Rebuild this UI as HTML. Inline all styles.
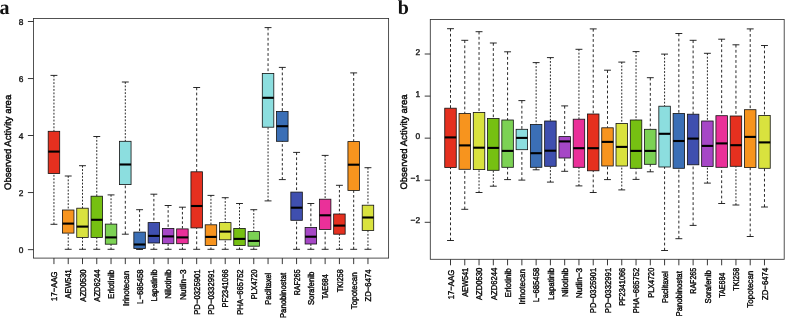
<!DOCTYPE html>
<html><head><meta charset="utf-8"><title>Observed Activity area</title>
<style>
html,body{margin:0;padding:0;background:#fff;}
body{width:785px;height:318px;overflow:hidden;}
svg{display:block;text-rendering:geometricPrecision;font-family:"Liberation Sans",sans-serif;}
</style></head>
<body>
<svg width="785" height="318" viewBox="0 0 785 318">
<rect width="785" height="318" fill="#fff"/>
<rect x="33.5" y="18.55" width="355.10" height="239.55" fill="none" stroke="#333" stroke-width="0.85"/>
<line x1="27.9" y1="21.5" x2="33.5" y2="21.5" stroke="#222" stroke-width="0.9"/>
<text x="23.3" y="24.80" font-size="8.4" text-anchor="end" fill="#111" stroke="#111" stroke-width="0.35">8</text>
<line x1="27.9" y1="78.55" x2="33.5" y2="78.55" stroke="#222" stroke-width="0.9"/>
<text x="23.3" y="81.85" font-size="8.4" text-anchor="end" fill="#111" stroke="#111" stroke-width="0.35">6</text>
<line x1="27.9" y1="135.5" x2="33.5" y2="135.5" stroke="#222" stroke-width="0.9"/>
<text x="23.3" y="138.80" font-size="8.4" text-anchor="end" fill="#111" stroke="#111" stroke-width="0.35">4</text>
<line x1="27.9" y1="192.55" x2="33.5" y2="192.55" stroke="#222" stroke-width="0.9"/>
<text x="23.3" y="195.85" font-size="8.4" text-anchor="end" fill="#111" stroke="#111" stroke-width="0.35">2</text>
<line x1="27.9" y1="249.65" x2="33.5" y2="249.65" stroke="#222" stroke-width="0.9"/>
<text x="23.3" y="252.95" font-size="8.4" text-anchor="end" fill="#111" stroke="#111" stroke-width="0.35">0</text>
<line x1="53.95" y1="75.4" x2="53.95" y2="131.3" stroke="#111" stroke-width="0.9" stroke-dasharray="1.84,1.56"/>
<line x1="53.95" y1="224.3" x2="53.95" y2="173.5" stroke="#111" stroke-width="0.9" stroke-dasharray="1.84,1.56"/>
<line x1="50.50" y1="75.4" x2="57.40" y2="75.4" stroke="#111" stroke-width="0.9"/>
<line x1="50.50" y1="224.3" x2="57.40" y2="224.3" stroke="#111" stroke-width="0.9"/>
<rect x="48.20" y="131.3" width="11.5" height="42.20" fill="#E5301F" stroke="#111" stroke-width="0.8"/>
<line x1="48.20" y1="151.6" x2="59.70" y2="151.6" stroke="#000" stroke-width="2.1"/>
<line x1="53.95" y1="258.1" x2="53.95" y2="264.1" stroke="#222" stroke-width="0.9"/>
<text transform="translate(57.15,300.90) rotate(-90) scale(0.1)" font-size="85" textLength="295" lengthAdjust="spacingAndGlyphs" fill="#111" stroke="#000" stroke-width="4">17−AAG</text>
<line x1="68.22" y1="176" x2="68.22" y2="210" stroke="#111" stroke-width="0.9" stroke-dasharray="1.84,1.56"/>
<line x1="68.22" y1="249.3" x2="68.22" y2="233.1" stroke="#111" stroke-width="0.9" stroke-dasharray="1.84,1.56"/>
<line x1="64.77" y1="176" x2="71.67" y2="176" stroke="#111" stroke-width="0.9"/>
<line x1="64.77" y1="249.3" x2="71.67" y2="249.3" stroke="#111" stroke-width="0.9"/>
<rect x="62.47" y="210" width="11.5" height="23.10" fill="#F7941E" stroke="#111" stroke-width="0.8"/>
<line x1="62.47" y1="223.6" x2="73.97" y2="223.6" stroke="#000" stroke-width="2.1"/>
<line x1="68.22" y1="258.1" x2="68.22" y2="264.1" stroke="#222" stroke-width="0.9"/>
<text transform="translate(71.42,298.40) rotate(-90) scale(0.1)" font-size="85" textLength="290" lengthAdjust="spacingAndGlyphs" fill="#111" stroke="#000" stroke-width="4">AEW541</text>
<line x1="82.50" y1="165.7" x2="82.50" y2="208.2" stroke="#111" stroke-width="0.9" stroke-dasharray="1.84,1.56"/>
<line x1="82.50" y1="249.3" x2="82.50" y2="237.4" stroke="#111" stroke-width="0.9" stroke-dasharray="1.84,1.56"/>
<line x1="79.05" y1="165.7" x2="85.95" y2="165.7" stroke="#111" stroke-width="0.9"/>
<line x1="79.05" y1="249.3" x2="85.95" y2="249.3" stroke="#111" stroke-width="0.9"/>
<rect x="76.75" y="208.2" width="11.5" height="29.20" fill="#D9E23E" stroke="#111" stroke-width="0.8"/>
<line x1="76.75" y1="226.6" x2="88.25" y2="226.6" stroke="#000" stroke-width="2.1"/>
<line x1="82.50" y1="258.1" x2="82.50" y2="264.1" stroke="#222" stroke-width="0.9"/>
<text transform="translate(85.70,301.70) rotate(-90) scale(0.1)" font-size="85" textLength="323" lengthAdjust="spacingAndGlyphs" fill="#111" stroke="#000" stroke-width="4">AZD0530</text>
<line x1="96.77" y1="136.5" x2="96.77" y2="196.2" stroke="#111" stroke-width="0.9" stroke-dasharray="1.84,1.56"/>
<line x1="96.77" y1="249.3" x2="96.77" y2="237.4" stroke="#111" stroke-width="0.9" stroke-dasharray="1.84,1.56"/>
<line x1="93.32" y1="136.5" x2="100.22" y2="136.5" stroke="#111" stroke-width="0.9"/>
<line x1="93.32" y1="249.3" x2="100.22" y2="249.3" stroke="#111" stroke-width="0.9"/>
<rect x="91.02" y="196.2" width="11.5" height="41.20" fill="#76C012" stroke="#111" stroke-width="0.8"/>
<line x1="91.02" y1="219.8" x2="102.52" y2="219.8" stroke="#000" stroke-width="2.1"/>
<line x1="96.77" y1="258.1" x2="96.77" y2="264.1" stroke="#222" stroke-width="0.9"/>
<text transform="translate(99.97,301.70) rotate(-90) scale(0.1)" font-size="85" textLength="323" lengthAdjust="spacingAndGlyphs" fill="#111" stroke="#000" stroke-width="4">AZD6244</text>
<line x1="111.04" y1="194.9" x2="111.04" y2="224.1" stroke="#111" stroke-width="0.9" stroke-dasharray="1.84,1.56"/>
<line x1="111.04" y1="249.3" x2="111.04" y2="244.2" stroke="#111" stroke-width="0.9" stroke-dasharray="1.84,1.56"/>
<line x1="107.59" y1="194.9" x2="114.49" y2="194.9" stroke="#111" stroke-width="0.9"/>
<line x1="107.59" y1="249.3" x2="114.49" y2="249.3" stroke="#111" stroke-width="0.9"/>
<rect x="105.29" y="224.1" width="11.5" height="20.10" fill="#7CD254" stroke="#111" stroke-width="0.8"/>
<line x1="105.29" y1="237.4" x2="116.79" y2="237.4" stroke="#000" stroke-width="2.1"/>
<line x1="111.04" y1="258.1" x2="111.04" y2="264.1" stroke="#222" stroke-width="0.9"/>
<text transform="translate(114.24,299.00) rotate(-90) scale(0.1)" font-size="85" textLength="292" lengthAdjust="spacingAndGlyphs" fill="#111" stroke="#000" stroke-width="4">Erlotinib</text>
<line x1="125.31" y1="82" x2="125.31" y2="141.3" stroke="#111" stroke-width="0.9" stroke-dasharray="1.84,1.56"/>
<line x1="125.31" y1="234.2" x2="125.31" y2="184.6" stroke="#111" stroke-width="0.9" stroke-dasharray="2.75,2.35"/>
<line x1="121.86" y1="82" x2="128.76" y2="82" stroke="#111" stroke-width="0.9"/>
<line x1="121.86" y1="234.2" x2="128.76" y2="234.2" stroke="#111" stroke-width="0.9"/>
<rect x="119.56" y="141.3" width="11.5" height="43.30" fill="#8CDEDF" stroke="#111" stroke-width="0.8"/>
<line x1="119.56" y1="164.5" x2="131.06" y2="164.5" stroke="#000" stroke-width="2.1"/>
<line x1="125.31" y1="258.1" x2="125.31" y2="264.1" stroke="#222" stroke-width="0.9"/>
<text transform="translate(128.51,306.00) rotate(-90) scale(0.1)" font-size="85" textLength="353" lengthAdjust="spacingAndGlyphs" fill="#111" stroke="#000" stroke-width="4">Irinotecan</text>
<line x1="139.59" y1="209.7" x2="139.59" y2="232.1" stroke="#111" stroke-width="0.9" stroke-dasharray="2.54,2.16"/>
<line x1="139.59" y1="249.5" x2="139.59" y2="248.5" stroke="#111" stroke-width="0.9" stroke-dasharray="1.84,1.56"/>
<line x1="136.14" y1="209.7" x2="143.04" y2="209.7" stroke="#111" stroke-width="0.9"/>
<line x1="136.14" y1="249.5" x2="143.04" y2="249.5" stroke="#111" stroke-width="0.9"/>
<rect x="133.84" y="232.1" width="11.5" height="16.40" fill="#3B6FB6" stroke="#111" stroke-width="0.8"/>
<line x1="133.84" y1="244.5" x2="145.34" y2="244.5" stroke="#000" stroke-width="2.1"/>
<line x1="139.59" y1="258.1" x2="139.59" y2="264.1" stroke="#222" stroke-width="0.9"/>
<text transform="translate(142.79,303.90) rotate(-90) scale(0.1)" font-size="85" textLength="345" lengthAdjust="spacingAndGlyphs" fill="#111" stroke="#000" stroke-width="4">L−685458</text>
<line x1="153.86" y1="194.2" x2="153.86" y2="222.6" stroke="#111" stroke-width="0.9" stroke-dasharray="2.54,2.16"/>
<line x1="153.86" y1="249.3" x2="153.86" y2="243" stroke="#111" stroke-width="0.9" stroke-dasharray="1.84,1.56"/>
<line x1="150.41" y1="194.2" x2="157.31" y2="194.2" stroke="#111" stroke-width="0.9"/>
<line x1="150.41" y1="249.3" x2="157.31" y2="249.3" stroke="#111" stroke-width="0.9"/>
<rect x="148.11" y="222.6" width="11.5" height="20.40" fill="#3F4FAF" stroke="#111" stroke-width="0.8"/>
<line x1="148.11" y1="235.9" x2="159.61" y2="235.9" stroke="#000" stroke-width="2.1"/>
<line x1="153.86" y1="258.1" x2="153.86" y2="264.1" stroke="#222" stroke-width="0.9"/>
<text transform="translate(157.06,301.50) rotate(-90) scale(0.1)" font-size="85" textLength="321" lengthAdjust="spacingAndGlyphs" fill="#111" stroke="#000" stroke-width="4">Lapatinib</text>
<line x1="168.13" y1="205.5" x2="168.13" y2="228.4" stroke="#111" stroke-width="0.9" stroke-dasharray="2.54,2.16"/>
<line x1="168.13" y1="249.3" x2="168.13" y2="243.7" stroke="#111" stroke-width="0.9" stroke-dasharray="1.84,1.56"/>
<line x1="164.68" y1="205.5" x2="171.58" y2="205.5" stroke="#111" stroke-width="0.9"/>
<line x1="164.68" y1="249.3" x2="171.58" y2="249.3" stroke="#111" stroke-width="0.9"/>
<rect x="162.38" y="228.4" width="11.5" height="15.30" fill="#A647C6" stroke="#111" stroke-width="0.8"/>
<line x1="162.38" y1="236.4" x2="173.88" y2="236.4" stroke="#000" stroke-width="2.1"/>
<line x1="168.13" y1="258.1" x2="168.13" y2="264.1" stroke="#222" stroke-width="0.9"/>
<text transform="translate(171.33,298.70) rotate(-90) scale(0.1)" font-size="85" textLength="293" lengthAdjust="spacingAndGlyphs" fill="#111" stroke="#000" stroke-width="4">Nilotinib</text>
<line x1="182.41" y1="207.2" x2="182.41" y2="228.9" stroke="#111" stroke-width="0.9" stroke-dasharray="2.54,2.16"/>
<line x1="182.41" y1="249.3" x2="182.41" y2="243.7" stroke="#111" stroke-width="0.9" stroke-dasharray="1.84,1.56"/>
<line x1="178.96" y1="207.2" x2="185.86" y2="207.2" stroke="#111" stroke-width="0.9"/>
<line x1="178.96" y1="249.3" x2="185.86" y2="249.3" stroke="#111" stroke-width="0.9"/>
<rect x="176.66" y="228.9" width="11.5" height="14.80" fill="#EA3099" stroke="#111" stroke-width="0.8"/>
<line x1="176.66" y1="237.4" x2="188.16" y2="237.4" stroke="#000" stroke-width="2.1"/>
<line x1="182.41" y1="258.1" x2="182.41" y2="264.1" stroke="#222" stroke-width="0.9"/>
<text transform="translate(185.61,299.90) rotate(-90) scale(0.1)" font-size="85" textLength="305" lengthAdjust="spacingAndGlyphs" fill="#111" stroke="#000" stroke-width="4">Nutlin−3</text>
<line x1="196.68" y1="87.5" x2="196.68" y2="171.8" stroke="#111" stroke-width="0.9" stroke-dasharray="2.75,2.35"/>
<line x1="196.68" y1="249.3" x2="196.68" y2="227.9" stroke="#111" stroke-width="0.9" stroke-dasharray="2.75,2.35"/>
<line x1="193.23" y1="87.5" x2="200.13" y2="87.5" stroke="#111" stroke-width="0.9"/>
<line x1="193.23" y1="249.3" x2="200.13" y2="249.3" stroke="#111" stroke-width="0.9"/>
<rect x="190.93" y="171.8" width="11.5" height="56.10" fill="#E5301F" stroke="#111" stroke-width="0.8"/>
<line x1="190.93" y1="206" x2="202.43" y2="206" stroke="#000" stroke-width="2.1"/>
<line x1="196.68" y1="258.1" x2="196.68" y2="264.1" stroke="#222" stroke-width="0.9"/>
<text transform="translate(199.88,314.80) rotate(-90) scale(0.1)" font-size="85" textLength="454" lengthAdjust="spacingAndGlyphs" fill="#111" stroke="#000" stroke-width="4">PD−0325901</text>
<line x1="210.95" y1="195.4" x2="210.95" y2="224.8" stroke="#111" stroke-width="0.9" stroke-dasharray="1.84,1.56"/>
<line x1="210.95" y1="249.3" x2="210.95" y2="245.5" stroke="#111" stroke-width="0.9" stroke-dasharray="1.84,1.56"/>
<line x1="207.50" y1="195.4" x2="214.40" y2="195.4" stroke="#111" stroke-width="0.9"/>
<line x1="207.50" y1="249.3" x2="214.40" y2="249.3" stroke="#111" stroke-width="0.9"/>
<rect x="205.20" y="224.8" width="11.5" height="20.70" fill="#F7941E" stroke="#111" stroke-width="0.8"/>
<line x1="205.20" y1="236.9" x2="216.70" y2="236.9" stroke="#000" stroke-width="2.1"/>
<line x1="210.95" y1="258.1" x2="210.95" y2="264.1" stroke="#222" stroke-width="0.9"/>
<text transform="translate(214.15,314.80) rotate(-90) scale(0.1)" font-size="85" textLength="454" lengthAdjust="spacingAndGlyphs" fill="#111" stroke="#000" stroke-width="4">PD−0332991</text>
<line x1="225.23" y1="197.7" x2="225.23" y2="222.6" stroke="#111" stroke-width="0.9" stroke-dasharray="1.84,1.56"/>
<line x1="225.23" y1="249.3" x2="225.23" y2="239.8" stroke="#111" stroke-width="0.9" stroke-dasharray="1.84,1.56"/>
<line x1="221.78" y1="197.7" x2="228.68" y2="197.7" stroke="#111" stroke-width="0.9"/>
<line x1="221.78" y1="249.3" x2="228.68" y2="249.3" stroke="#111" stroke-width="0.9"/>
<rect x="219.48" y="222.6" width="11.5" height="17.20" fill="#D9E23E" stroke="#111" stroke-width="0.8"/>
<line x1="219.48" y1="231.6" x2="230.98" y2="231.6" stroke="#000" stroke-width="2.1"/>
<line x1="225.23" y1="258.1" x2="225.23" y2="264.1" stroke="#222" stroke-width="0.9"/>
<text transform="translate(228.43,307.40) rotate(-90) scale(0.1)" font-size="85" textLength="380" lengthAdjust="spacingAndGlyphs" fill="#111" stroke="#000" stroke-width="4">PF2341066</text>
<line x1="239.50" y1="203.5" x2="239.50" y2="228.4" stroke="#111" stroke-width="0.9" stroke-dasharray="1.84,1.56"/>
<line x1="239.50" y1="249.3" x2="239.50" y2="245.5" stroke="#111" stroke-width="0.9" stroke-dasharray="1.84,1.56"/>
<line x1="236.05" y1="203.5" x2="242.95" y2="203.5" stroke="#111" stroke-width="0.9"/>
<line x1="236.05" y1="249.3" x2="242.95" y2="249.3" stroke="#111" stroke-width="0.9"/>
<rect x="233.75" y="228.4" width="11.5" height="17.10" fill="#76C012" stroke="#111" stroke-width="0.8"/>
<line x1="233.75" y1="238.9" x2="245.25" y2="238.9" stroke="#000" stroke-width="2.1"/>
<line x1="239.50" y1="258.1" x2="239.50" y2="264.1" stroke="#222" stroke-width="0.9"/>
<text transform="translate(242.70,314.80) rotate(-90) scale(0.1)" font-size="85" textLength="454" lengthAdjust="spacingAndGlyphs" fill="#111" stroke="#000" stroke-width="4">PHA−665752</text>
<line x1="253.77" y1="209.7" x2="253.77" y2="231.6" stroke="#111" stroke-width="0.9" stroke-dasharray="1.84,1.56"/>
<line x1="253.77" y1="249.3" x2="253.77" y2="246.2" stroke="#111" stroke-width="0.9" stroke-dasharray="1.84,1.56"/>
<line x1="250.32" y1="209.7" x2="257.22" y2="209.7" stroke="#111" stroke-width="0.9"/>
<line x1="250.32" y1="249.3" x2="257.22" y2="249.3" stroke="#111" stroke-width="0.9"/>
<rect x="248.02" y="231.6" width="11.5" height="14.60" fill="#7CD254" stroke="#111" stroke-width="0.8"/>
<line x1="248.02" y1="240.9" x2="259.52" y2="240.9" stroke="#000" stroke-width="2.1"/>
<line x1="253.77" y1="258.1" x2="253.77" y2="264.1" stroke="#222" stroke-width="0.9"/>
<text transform="translate(256.97,299.30) rotate(-90) scale(0.1)" font-size="85" textLength="299" lengthAdjust="spacingAndGlyphs" fill="#111" stroke="#000" stroke-width="4">PLX4720</text>
<line x1="268.05" y1="27.6" x2="268.05" y2="73.4" stroke="#111" stroke-width="0.9" stroke-dasharray="2.75,2.35"/>
<line x1="268.05" y1="200.9" x2="268.05" y2="127.2" stroke="#111" stroke-width="0.9" stroke-dasharray="1.84,1.56"/>
<line x1="264.60" y1="27.6" x2="271.50" y2="27.6" stroke="#111" stroke-width="0.9"/>
<line x1="264.60" y1="200.9" x2="271.50" y2="200.9" stroke="#111" stroke-width="0.9"/>
<rect x="262.30" y="73.4" width="11.5" height="53.80" fill="#8CDEDF" stroke="#111" stroke-width="0.8"/>
<line x1="262.30" y1="97.8" x2="273.80" y2="97.8" stroke="#000" stroke-width="2.1"/>
<line x1="268.05" y1="258.1" x2="268.05" y2="264.1" stroke="#222" stroke-width="0.9"/>
<text transform="translate(271.25,304.70) rotate(-90) scale(0.1)" font-size="85" textLength="319" lengthAdjust="spacingAndGlyphs" fill="#111" stroke="#000" stroke-width="4">Paclitaxel</text>
<line x1="282.32" y1="67.4" x2="282.32" y2="111.4" stroke="#111" stroke-width="0.9" stroke-dasharray="2.75,2.35"/>
<line x1="282.32" y1="179.6" x2="282.32" y2="141.3" stroke="#111" stroke-width="0.9" stroke-dasharray="2.54,2.16"/>
<line x1="278.87" y1="67.4" x2="285.77" y2="67.4" stroke="#111" stroke-width="0.9"/>
<line x1="278.87" y1="179.6" x2="285.77" y2="179.6" stroke="#111" stroke-width="0.9"/>
<rect x="276.57" y="111.4" width="11.5" height="29.90" fill="#3B6FB6" stroke="#111" stroke-width="0.8"/>
<line x1="276.57" y1="126.2" x2="288.07" y2="126.2" stroke="#000" stroke-width="2.1"/>
<line x1="282.32" y1="258.1" x2="282.32" y2="264.1" stroke="#222" stroke-width="0.9"/>
<text transform="translate(285.52,318.10) rotate(-90) scale(0.1)" font-size="85" textLength="453" lengthAdjust="spacingAndGlyphs" fill="#111" stroke="#000" stroke-width="4">Panobinostat</text>
<line x1="296.59" y1="152.4" x2="296.59" y2="192.1" stroke="#111" stroke-width="0.9" stroke-dasharray="2.70,2.30"/>
<line x1="296.59" y1="249.3" x2="296.59" y2="220.3" stroke="#111" stroke-width="0.9" stroke-dasharray="2.70,2.30"/>
<line x1="293.14" y1="152.4" x2="300.04" y2="152.4" stroke="#111" stroke-width="0.9"/>
<line x1="293.14" y1="249.3" x2="300.04" y2="249.3" stroke="#111" stroke-width="0.9"/>
<rect x="290.84" y="192.1" width="11.5" height="28.20" fill="#3F4FAF" stroke="#111" stroke-width="0.8"/>
<line x1="290.84" y1="207.7" x2="302.34" y2="207.7" stroke="#000" stroke-width="2.1"/>
<line x1="296.59" y1="258.1" x2="296.59" y2="264.1" stroke="#222" stroke-width="0.9"/>
<text transform="translate(299.79,295.30) rotate(-90) scale(0.1)" font-size="85" textLength="259" lengthAdjust="spacingAndGlyphs" fill="#111" stroke="#000" stroke-width="4">RAF265</text>
<line x1="310.86" y1="203.5" x2="310.86" y2="227.4" stroke="#111" stroke-width="0.9" stroke-dasharray="2.70,2.30"/>
<line x1="310.86" y1="249.3" x2="310.86" y2="244" stroke="#111" stroke-width="0.9" stroke-dasharray="1.84,1.56"/>
<line x1="307.41" y1="203.5" x2="314.31" y2="203.5" stroke="#111" stroke-width="0.9"/>
<line x1="307.41" y1="249.3" x2="314.31" y2="249.3" stroke="#111" stroke-width="0.9"/>
<rect x="305.11" y="227.4" width="11.5" height="16.60" fill="#A647C6" stroke="#111" stroke-width="0.8"/>
<line x1="305.11" y1="236.7" x2="316.61" y2="236.7" stroke="#000" stroke-width="2.1"/>
<line x1="310.86" y1="258.1" x2="310.86" y2="264.1" stroke="#222" stroke-width="0.9"/>
<text transform="translate(314.06,305.10) rotate(-90) scale(0.1)" font-size="85" textLength="334" lengthAdjust="spacingAndGlyphs" fill="#111" stroke="#000" stroke-width="4">Sorafenib</text>
<line x1="325.14" y1="155.4" x2="325.14" y2="199.2" stroke="#111" stroke-width="0.9" stroke-dasharray="1.84,1.56"/>
<line x1="325.14" y1="249.3" x2="325.14" y2="229.4" stroke="#111" stroke-width="0.9" stroke-dasharray="2.70,2.30"/>
<line x1="321.69" y1="155.4" x2="328.59" y2="155.4" stroke="#111" stroke-width="0.9"/>
<line x1="321.69" y1="249.3" x2="328.59" y2="249.3" stroke="#111" stroke-width="0.9"/>
<rect x="319.39" y="199.2" width="11.5" height="30.20" fill="#EA3099" stroke="#111" stroke-width="0.8"/>
<line x1="319.39" y1="215.3" x2="330.89" y2="215.3" stroke="#000" stroke-width="2.1"/>
<line x1="325.14" y1="258.1" x2="325.14" y2="264.1" stroke="#222" stroke-width="0.9"/>
<text transform="translate(328.34,299.30) rotate(-90) scale(0.1)" font-size="85" textLength="250" lengthAdjust="spacingAndGlyphs" fill="#111" stroke="#000" stroke-width="4">TAE684</text>
<line x1="339.41" y1="185.3" x2="339.41" y2="214" stroke="#111" stroke-width="0.9" stroke-dasharray="2.54,2.16"/>
<line x1="339.41" y1="249.3" x2="339.41" y2="234.2" stroke="#111" stroke-width="0.9" stroke-dasharray="1.84,1.56"/>
<line x1="335.96" y1="185.3" x2="342.86" y2="185.3" stroke="#111" stroke-width="0.9"/>
<line x1="335.96" y1="249.3" x2="342.86" y2="249.3" stroke="#111" stroke-width="0.9"/>
<rect x="333.66" y="214" width="11.5" height="20.20" fill="#E5301F" stroke="#111" stroke-width="0.8"/>
<line x1="333.66" y1="225.6" x2="345.16" y2="225.6" stroke="#000" stroke-width="2.1"/>
<line x1="339.41" y1="258.1" x2="339.41" y2="264.1" stroke="#222" stroke-width="0.9"/>
<text transform="translate(342.61,292.30) rotate(-90) scale(0.1)" font-size="85" textLength="229" lengthAdjust="spacingAndGlyphs" fill="#111" stroke="#000" stroke-width="4">TKI258</text>
<line x1="353.68" y1="72.9" x2="353.68" y2="141.6" stroke="#111" stroke-width="0.9" stroke-dasharray="2.75,2.35"/>
<line x1="353.68" y1="249.3" x2="353.68" y2="190.4" stroke="#111" stroke-width="0.9" stroke-dasharray="2.54,2.16"/>
<line x1="350.23" y1="72.9" x2="357.13" y2="72.9" stroke="#111" stroke-width="0.9"/>
<line x1="350.23" y1="249.3" x2="357.13" y2="249.3" stroke="#111" stroke-width="0.9"/>
<rect x="347.93" y="141.6" width="11.5" height="48.80" fill="#F7941E" stroke="#111" stroke-width="0.8"/>
<line x1="347.93" y1="164.7" x2="359.43" y2="164.7" stroke="#000" stroke-width="2.1"/>
<line x1="353.68" y1="258.1" x2="353.68" y2="264.1" stroke="#222" stroke-width="0.9"/>
<text transform="translate(356.88,309.30) rotate(-90) scale(0.1)" font-size="85" textLength="370" lengthAdjust="spacingAndGlyphs" fill="#111" stroke="#000" stroke-width="4">Topotecan</text>
<line x1="367.96" y1="167.7" x2="367.96" y2="205.2" stroke="#111" stroke-width="0.9" stroke-dasharray="1.84,1.56"/>
<line x1="367.96" y1="249.3" x2="367.96" y2="230.4" stroke="#111" stroke-width="0.9" stroke-dasharray="1.84,1.56"/>
<line x1="364.51" y1="167.7" x2="371.41" y2="167.7" stroke="#111" stroke-width="0.9"/>
<line x1="364.51" y1="249.3" x2="371.41" y2="249.3" stroke="#111" stroke-width="0.9"/>
<rect x="362.21" y="205.2" width="11.5" height="25.20" fill="#D9E23E" stroke="#111" stroke-width="0.8"/>
<line x1="362.21" y1="217.5" x2="373.71" y2="217.5" stroke="#000" stroke-width="2.1"/>
<line x1="367.96" y1="258.1" x2="367.96" y2="264.1" stroke="#222" stroke-width="0.9"/>
<text transform="translate(371.16,301.60) rotate(-90) scale(0.1)" font-size="85" textLength="322" lengthAdjust="spacingAndGlyphs" fill="#111" stroke="#000" stroke-width="4">ZD−6474</text>
<text transform="translate(11.3,190.00) rotate(-90) scale(0.1)" font-size="95" textLength="952" lengthAdjust="spacingAndGlyphs" fill="#111" stroke="#000" stroke-width="4">Observed Activity area</text>
<text x="-0.5" y="13.5" font-family="'Liberation Serif', serif" font-weight="bold" font-size="20" fill="#111">a</text>
<rect x="430.3" y="19.45" width="353.90" height="239.85" fill="none" stroke="#333" stroke-width="0.85"/>
<line x1="424.7" y1="54.0" x2="430.3" y2="54.0" stroke="#222" stroke-width="0.9"/>
<text x="420.1" y="54.90" font-size="8.4" text-anchor="end" fill="#111" stroke="#111" stroke-width="0.35">2</text>
<line x1="424.7" y1="96.1" x2="430.3" y2="96.1" stroke="#222" stroke-width="0.9"/>
<text x="420.1" y="97.00" font-size="8.4" text-anchor="end" fill="#111" stroke="#111" stroke-width="0.35">1</text>
<line x1="424.7" y1="138.15" x2="430.3" y2="138.15" stroke="#222" stroke-width="0.9"/>
<text x="420.1" y="139.05" font-size="8.4" text-anchor="end" fill="#111" stroke="#111" stroke-width="0.35">0</text>
<line x1="424.7" y1="180.2" x2="430.3" y2="180.2" stroke="#222" stroke-width="0.9"/>
<text x="420.1" y="181.10" font-size="8.4" text-anchor="end" fill="#111" stroke="#111" stroke-width="0.35">−1</text>
<line x1="424.7" y1="222.3" x2="430.3" y2="222.3" stroke="#222" stroke-width="0.9"/>
<text x="420.1" y="223.20" font-size="8.4" text-anchor="end" fill="#111" stroke="#111" stroke-width="0.35">−2</text>
<line x1="450.50" y1="28.7" x2="450.50" y2="108.2" stroke="#111" stroke-width="0.9" stroke-dasharray="2.75,2.35"/>
<line x1="450.50" y1="240.5" x2="450.50" y2="167.5" stroke="#111" stroke-width="0.9" stroke-dasharray="2.75,2.35"/>
<line x1="447.05" y1="28.7" x2="453.95" y2="28.7" stroke="#111" stroke-width="0.9"/>
<line x1="447.05" y1="240.5" x2="453.95" y2="240.5" stroke="#111" stroke-width="0.9"/>
<rect x="444.75" y="108.2" width="11.5" height="59.30" fill="#E5301F" stroke="#111" stroke-width="0.8"/>
<line x1="444.75" y1="137.4" x2="456.25" y2="137.4" stroke="#000" stroke-width="2.1"/>
<line x1="450.50" y1="259.3" x2="450.50" y2="265.3" stroke="#222" stroke-width="0.9"/>
<text transform="translate(453.70,299.30) rotate(-90) scale(0.1)" font-size="85" textLength="295" lengthAdjust="spacingAndGlyphs" fill="#111" stroke="#000" stroke-width="4">17−AAG</text>
<line x1="464.77" y1="40.3" x2="464.77" y2="113.5" stroke="#111" stroke-width="0.9" stroke-dasharray="2.75,2.35"/>
<line x1="464.77" y1="209.3" x2="464.77" y2="169.3" stroke="#111" stroke-width="0.9" stroke-dasharray="2.75,2.35"/>
<line x1="461.32" y1="40.3" x2="468.22" y2="40.3" stroke="#111" stroke-width="0.9"/>
<line x1="461.32" y1="209.3" x2="468.22" y2="209.3" stroke="#111" stroke-width="0.9"/>
<rect x="459.02" y="113.5" width="11.5" height="55.80" fill="#F7941E" stroke="#111" stroke-width="0.8"/>
<line x1="459.02" y1="145.4" x2="470.52" y2="145.4" stroke="#000" stroke-width="2.1"/>
<line x1="464.77" y1="259.3" x2="464.77" y2="265.3" stroke="#222" stroke-width="0.9"/>
<text transform="translate(467.97,296.80) rotate(-90) scale(0.1)" font-size="85" textLength="290" lengthAdjust="spacingAndGlyphs" fill="#111" stroke="#000" stroke-width="4">AEW541</text>
<line x1="479.04" y1="31.7" x2="479.04" y2="112.5" stroke="#111" stroke-width="0.9" stroke-dasharray="2.75,2.35"/>
<line x1="479.04" y1="192.5" x2="479.04" y2="169.6" stroke="#111" stroke-width="0.9" stroke-dasharray="1.84,1.56"/>
<line x1="475.59" y1="31.7" x2="482.49" y2="31.7" stroke="#111" stroke-width="0.9"/>
<line x1="475.59" y1="192.5" x2="482.49" y2="192.5" stroke="#111" stroke-width="0.9"/>
<rect x="473.29" y="112.5" width="11.5" height="57.10" fill="#D9E23E" stroke="#111" stroke-width="0.8"/>
<line x1="473.29" y1="147.7" x2="484.79" y2="147.7" stroke="#000" stroke-width="2.1"/>
<line x1="479.04" y1="259.3" x2="479.04" y2="265.3" stroke="#222" stroke-width="0.9"/>
<text transform="translate(482.24,300.10) rotate(-90) scale(0.1)" font-size="85" textLength="323" lengthAdjust="spacingAndGlyphs" fill="#111" stroke="#000" stroke-width="4">AZD0530</text>
<line x1="493.32" y1="43" x2="493.32" y2="118.5" stroke="#111" stroke-width="0.9" stroke-dasharray="2.75,2.35"/>
<line x1="493.32" y1="186.2" x2="493.32" y2="170.3" stroke="#111" stroke-width="0.9" stroke-dasharray="1.84,1.56"/>
<line x1="489.87" y1="43" x2="496.77" y2="43" stroke="#111" stroke-width="0.9"/>
<line x1="489.87" y1="186.2" x2="496.77" y2="186.2" stroke="#111" stroke-width="0.9"/>
<rect x="487.57" y="118.5" width="11.5" height="51.80" fill="#76C012" stroke="#111" stroke-width="0.8"/>
<line x1="487.57" y1="147.9" x2="499.07" y2="147.9" stroke="#000" stroke-width="2.1"/>
<line x1="493.32" y1="259.3" x2="493.32" y2="265.3" stroke="#222" stroke-width="0.9"/>
<text transform="translate(496.52,300.10) rotate(-90) scale(0.1)" font-size="85" textLength="323" lengthAdjust="spacingAndGlyphs" fill="#111" stroke="#000" stroke-width="4">AZD6244</text>
<line x1="507.59" y1="51.8" x2="507.59" y2="120" stroke="#111" stroke-width="0.9" stroke-dasharray="2.75,2.35"/>
<line x1="507.59" y1="179.6" x2="507.59" y2="167.3" stroke="#111" stroke-width="0.9" stroke-dasharray="2.75,2.35"/>
<line x1="504.14" y1="51.8" x2="511.04" y2="51.8" stroke="#111" stroke-width="0.9"/>
<line x1="504.14" y1="179.6" x2="511.04" y2="179.6" stroke="#111" stroke-width="0.9"/>
<rect x="501.84" y="120" width="11.5" height="47.30" fill="#7CD254" stroke="#111" stroke-width="0.8"/>
<line x1="501.84" y1="150.9" x2="513.34" y2="150.9" stroke="#000" stroke-width="2.1"/>
<line x1="507.59" y1="259.3" x2="507.59" y2="265.3" stroke="#222" stroke-width="0.9"/>
<text transform="translate(510.79,297.40) rotate(-90) scale(0.1)" font-size="85" textLength="292" lengthAdjust="spacingAndGlyphs" fill="#111" stroke="#000" stroke-width="4">Erlotinib</text>
<line x1="521.86" y1="100.6" x2="521.86" y2="129.3" stroke="#111" stroke-width="0.9" stroke-dasharray="2.75,2.35"/>
<line x1="521.86" y1="180.1" x2="521.86" y2="149.7" stroke="#111" stroke-width="0.9" stroke-dasharray="2.75,2.35"/>
<line x1="518.41" y1="100.6" x2="525.31" y2="100.6" stroke="#111" stroke-width="0.9"/>
<line x1="518.41" y1="180.1" x2="525.31" y2="180.1" stroke="#111" stroke-width="0.9"/>
<rect x="516.11" y="129.3" width="11.5" height="20.40" fill="#8CDEDF" stroke="#111" stroke-width="0.8"/>
<line x1="516.11" y1="137.9" x2="527.61" y2="137.9" stroke="#000" stroke-width="2.1"/>
<line x1="521.86" y1="259.3" x2="521.86" y2="265.3" stroke="#222" stroke-width="0.9"/>
<text transform="translate(525.06,304.40) rotate(-90) scale(0.1)" font-size="85" textLength="353" lengthAdjust="spacingAndGlyphs" fill="#111" stroke="#000" stroke-width="4">Irinotecan</text>
<line x1="536.13" y1="62.6" x2="536.13" y2="124.5" stroke="#111" stroke-width="0.9" stroke-dasharray="1.84,1.56"/>
<line x1="536.13" y1="169.8" x2="536.13" y2="167.3" stroke="#111" stroke-width="0.9" stroke-dasharray="2.75,2.35"/>
<line x1="532.68" y1="62.6" x2="539.58" y2="62.6" stroke="#111" stroke-width="0.9"/>
<line x1="532.68" y1="169.8" x2="539.58" y2="169.8" stroke="#111" stroke-width="0.9"/>
<rect x="530.38" y="124.5" width="11.5" height="42.80" fill="#3B6FB6" stroke="#111" stroke-width="0.8"/>
<line x1="530.38" y1="153.2" x2="541.88" y2="153.2" stroke="#000" stroke-width="2.1"/>
<line x1="536.13" y1="259.3" x2="536.13" y2="265.3" stroke="#222" stroke-width="0.9"/>
<text transform="translate(539.33,302.30) rotate(-90) scale(0.1)" font-size="85" textLength="345" lengthAdjust="spacingAndGlyphs" fill="#111" stroke="#000" stroke-width="4">L−685458</text>
<line x1="550.40" y1="57.6" x2="550.40" y2="121" stroke="#111" stroke-width="0.9" stroke-dasharray="1.84,1.56"/>
<line x1="550.40" y1="182.1" x2="550.40" y2="166.3" stroke="#111" stroke-width="0.9" stroke-dasharray="1.84,1.56"/>
<line x1="546.95" y1="57.6" x2="553.85" y2="57.6" stroke="#111" stroke-width="0.9"/>
<line x1="546.95" y1="182.1" x2="553.85" y2="182.1" stroke="#111" stroke-width="0.9"/>
<rect x="544.65" y="121" width="11.5" height="45.30" fill="#3F4FAF" stroke="#111" stroke-width="0.8"/>
<line x1="544.65" y1="150.7" x2="556.15" y2="150.7" stroke="#000" stroke-width="2.1"/>
<line x1="550.40" y1="259.3" x2="550.40" y2="265.3" stroke="#222" stroke-width="0.9"/>
<text transform="translate(553.60,299.90) rotate(-90) scale(0.1)" font-size="85" textLength="321" lengthAdjust="spacingAndGlyphs" fill="#111" stroke="#000" stroke-width="4">Lapatinib</text>
<line x1="564.68" y1="105.9" x2="564.68" y2="136.6" stroke="#111" stroke-width="0.9" stroke-dasharray="2.75,2.35"/>
<line x1="564.68" y1="171.3" x2="564.68" y2="158" stroke="#111" stroke-width="0.9" stroke-dasharray="2.75,2.35"/>
<line x1="561.23" y1="105.9" x2="568.13" y2="105.9" stroke="#111" stroke-width="0.9"/>
<line x1="561.23" y1="171.3" x2="568.13" y2="171.3" stroke="#111" stroke-width="0.9"/>
<rect x="558.93" y="136.6" width="11.5" height="21.40" fill="#A647C6" stroke="#111" stroke-width="0.8"/>
<line x1="558.93" y1="141.4" x2="570.43" y2="141.4" stroke="#000" stroke-width="2.1"/>
<line x1="564.68" y1="259.3" x2="564.68" y2="265.3" stroke="#222" stroke-width="0.9"/>
<text transform="translate(567.88,297.10) rotate(-90) scale(0.1)" font-size="85" textLength="293" lengthAdjust="spacingAndGlyphs" fill="#111" stroke="#000" stroke-width="4">Nilotinib</text>
<line x1="578.95" y1="49.3" x2="578.95" y2="119.2" stroke="#111" stroke-width="0.9" stroke-dasharray="1.84,1.56"/>
<line x1="578.95" y1="185.9" x2="578.95" y2="167.3" stroke="#111" stroke-width="0.9" stroke-dasharray="1.84,1.56"/>
<line x1="575.50" y1="49.3" x2="582.40" y2="49.3" stroke="#111" stroke-width="0.9"/>
<line x1="575.50" y1="185.9" x2="582.40" y2="185.9" stroke="#111" stroke-width="0.9"/>
<rect x="573.20" y="119.2" width="11.5" height="48.10" fill="#EA3099" stroke="#111" stroke-width="0.8"/>
<line x1="573.20" y1="148.2" x2="584.70" y2="148.2" stroke="#000" stroke-width="2.1"/>
<line x1="578.95" y1="259.3" x2="578.95" y2="265.3" stroke="#222" stroke-width="0.9"/>
<text transform="translate(582.15,298.30) rotate(-90) scale(0.1)" font-size="85" textLength="305" lengthAdjust="spacingAndGlyphs" fill="#111" stroke="#000" stroke-width="4">Nutlin−3</text>
<line x1="593.22" y1="28.9" x2="593.22" y2="114" stroke="#111" stroke-width="0.9" stroke-dasharray="2.75,2.35"/>
<line x1="593.22" y1="192.5" x2="593.22" y2="170.8" stroke="#111" stroke-width="0.9" stroke-dasharray="2.75,2.35"/>
<line x1="589.77" y1="28.9" x2="596.67" y2="28.9" stroke="#111" stroke-width="0.9"/>
<line x1="589.77" y1="192.5" x2="596.67" y2="192.5" stroke="#111" stroke-width="0.9"/>
<rect x="587.47" y="114" width="11.5" height="56.80" fill="#E5301F" stroke="#111" stroke-width="0.8"/>
<line x1="587.47" y1="148.2" x2="598.97" y2="148.2" stroke="#000" stroke-width="2.1"/>
<line x1="593.22" y1="259.3" x2="593.22" y2="265.3" stroke="#222" stroke-width="0.9"/>
<text transform="translate(596.42,313.20) rotate(-90) scale(0.1)" font-size="85" textLength="454" lengthAdjust="spacingAndGlyphs" fill="#111" stroke="#000" stroke-width="4">PD−0325901</text>
<line x1="607.49" y1="70.2" x2="607.49" y2="127.8" stroke="#111" stroke-width="0.9" stroke-dasharray="2.75,2.35"/>
<line x1="607.49" y1="179.6" x2="607.49" y2="166" stroke="#111" stroke-width="0.9" stroke-dasharray="2.75,2.35"/>
<line x1="604.04" y1="70.2" x2="610.94" y2="70.2" stroke="#111" stroke-width="0.9"/>
<line x1="604.04" y1="179.6" x2="610.94" y2="179.6" stroke="#111" stroke-width="0.9"/>
<rect x="601.74" y="127.8" width="11.5" height="38.20" fill="#F7941E" stroke="#111" stroke-width="0.8"/>
<line x1="601.74" y1="141.9" x2="613.24" y2="141.9" stroke="#000" stroke-width="2.1"/>
<line x1="607.49" y1="259.3" x2="607.49" y2="265.3" stroke="#222" stroke-width="0.9"/>
<text transform="translate(610.69,313.20) rotate(-90) scale(0.1)" font-size="85" textLength="454" lengthAdjust="spacingAndGlyphs" fill="#111" stroke="#000" stroke-width="4">PD−0332991</text>
<line x1="621.76" y1="62.1" x2="621.76" y2="123.5" stroke="#111" stroke-width="0.9" stroke-dasharray="1.84,1.56"/>
<line x1="621.76" y1="189.9" x2="621.76" y2="166" stroke="#111" stroke-width="0.9" stroke-dasharray="1.84,1.56"/>
<line x1="618.31" y1="62.1" x2="625.21" y2="62.1" stroke="#111" stroke-width="0.9"/>
<line x1="618.31" y1="189.9" x2="625.21" y2="189.9" stroke="#111" stroke-width="0.9"/>
<rect x="616.01" y="123.5" width="11.5" height="42.50" fill="#D9E23E" stroke="#111" stroke-width="0.8"/>
<line x1="616.01" y1="146.9" x2="627.51" y2="146.9" stroke="#000" stroke-width="2.1"/>
<line x1="621.76" y1="259.3" x2="621.76" y2="265.3" stroke="#222" stroke-width="0.9"/>
<text transform="translate(624.96,305.80) rotate(-90) scale(0.1)" font-size="85" textLength="380" lengthAdjust="spacingAndGlyphs" fill="#111" stroke="#000" stroke-width="4">PF2341066</text>
<line x1="636.04" y1="51.6" x2="636.04" y2="120" stroke="#111" stroke-width="0.9" stroke-dasharray="1.84,1.56"/>
<line x1="636.04" y1="179.4" x2="636.04" y2="168.3" stroke="#111" stroke-width="0.9" stroke-dasharray="2.75,2.35"/>
<line x1="632.59" y1="51.6" x2="639.49" y2="51.6" stroke="#111" stroke-width="0.9"/>
<line x1="632.59" y1="179.4" x2="639.49" y2="179.4" stroke="#111" stroke-width="0.9"/>
<rect x="630.29" y="120" width="11.5" height="48.30" fill="#76C012" stroke="#111" stroke-width="0.8"/>
<line x1="630.29" y1="150.9" x2="641.79" y2="150.9" stroke="#000" stroke-width="2.1"/>
<line x1="636.04" y1="259.3" x2="636.04" y2="265.3" stroke="#222" stroke-width="0.9"/>
<text transform="translate(639.24,313.20) rotate(-90) scale(0.1)" font-size="85" textLength="454" lengthAdjust="spacingAndGlyphs" fill="#111" stroke="#000" stroke-width="4">PHA−665752</text>
<line x1="650.31" y1="77.7" x2="650.31" y2="129.3" stroke="#111" stroke-width="0.9" stroke-dasharray="2.75,2.35"/>
<line x1="650.31" y1="171.8" x2="650.31" y2="164.3" stroke="#111" stroke-width="0.9" stroke-dasharray="2.75,2.35"/>
<line x1="646.86" y1="77.7" x2="653.76" y2="77.7" stroke="#111" stroke-width="0.9"/>
<line x1="646.86" y1="171.8" x2="653.76" y2="171.8" stroke="#111" stroke-width="0.9"/>
<rect x="644.56" y="129.3" width="11.5" height="35.00" fill="#7CD254" stroke="#111" stroke-width="0.8"/>
<line x1="644.56" y1="150.9" x2="656.06" y2="150.9" stroke="#000" stroke-width="2.1"/>
<line x1="650.31" y1="259.3" x2="650.31" y2="265.3" stroke="#222" stroke-width="0.9"/>
<text transform="translate(653.51,297.70) rotate(-90) scale(0.1)" font-size="85" textLength="299" lengthAdjust="spacingAndGlyphs" fill="#111" stroke="#000" stroke-width="4">PLX4720</text>
<line x1="664.58" y1="54.1" x2="664.58" y2="106.2" stroke="#111" stroke-width="0.9" stroke-dasharray="1.84,1.56"/>
<line x1="664.58" y1="250.5" x2="664.58" y2="167" stroke="#111" stroke-width="0.9" stroke-dasharray="2.75,2.35"/>
<line x1="661.13" y1="54.1" x2="668.03" y2="54.1" stroke="#111" stroke-width="0.9"/>
<line x1="661.13" y1="250.5" x2="668.03" y2="250.5" stroke="#111" stroke-width="0.9"/>
<rect x="658.83" y="106.2" width="11.5" height="60.80" fill="#8CDEDF" stroke="#111" stroke-width="0.8"/>
<line x1="658.83" y1="133.8" x2="670.33" y2="133.8" stroke="#000" stroke-width="2.1"/>
<line x1="664.58" y1="259.3" x2="664.58" y2="265.3" stroke="#222" stroke-width="0.9"/>
<text transform="translate(667.78,303.10) rotate(-90) scale(0.1)" font-size="85" textLength="319" lengthAdjust="spacingAndGlyphs" fill="#111" stroke="#000" stroke-width="4">Paclitaxel</text>
<line x1="678.85" y1="33.5" x2="678.85" y2="113.5" stroke="#111" stroke-width="0.9" stroke-dasharray="2.75,2.35"/>
<line x1="678.85" y1="238.7" x2="678.85" y2="168.3" stroke="#111" stroke-width="0.9" stroke-dasharray="2.75,2.35"/>
<line x1="675.40" y1="33.5" x2="682.30" y2="33.5" stroke="#111" stroke-width="0.9"/>
<line x1="675.40" y1="238.7" x2="682.30" y2="238.7" stroke="#111" stroke-width="0.9"/>
<rect x="673.10" y="113.5" width="11.5" height="54.80" fill="#3B6FB6" stroke="#111" stroke-width="0.8"/>
<line x1="673.10" y1="141.0" x2="684.60" y2="141.0" stroke="#000" stroke-width="2.1"/>
<line x1="678.85" y1="259.3" x2="678.85" y2="265.3" stroke="#222" stroke-width="0.9"/>
<text transform="translate(682.05,316.50) rotate(-90) scale(0.1)" font-size="85" textLength="453" lengthAdjust="spacingAndGlyphs" fill="#111" stroke="#000" stroke-width="4">Panobinostat</text>
<line x1="693.12" y1="40.3" x2="693.12" y2="114.2" stroke="#111" stroke-width="0.9" stroke-dasharray="2.75,2.35"/>
<line x1="693.12" y1="225.4" x2="693.12" y2="164.8" stroke="#111" stroke-width="0.9" stroke-dasharray="2.75,2.35"/>
<line x1="689.67" y1="40.3" x2="696.57" y2="40.3" stroke="#111" stroke-width="0.9"/>
<line x1="689.67" y1="225.4" x2="696.57" y2="225.4" stroke="#111" stroke-width="0.9"/>
<rect x="687.37" y="114.2" width="11.5" height="50.60" fill="#3F4FAF" stroke="#111" stroke-width="0.8"/>
<line x1="687.37" y1="138.6" x2="698.87" y2="138.6" stroke="#000" stroke-width="2.1"/>
<line x1="693.12" y1="259.3" x2="693.12" y2="265.3" stroke="#222" stroke-width="0.9"/>
<text transform="translate(696.32,293.70) rotate(-90) scale(0.1)" font-size="85" textLength="259" lengthAdjust="spacingAndGlyphs" fill="#111" stroke="#000" stroke-width="4">RAF265</text>
<line x1="707.40" y1="53.3" x2="707.40" y2="121" stroke="#111" stroke-width="0.9" stroke-dasharray="1.84,1.56"/>
<line x1="707.40" y1="183.1" x2="707.40" y2="166.5" stroke="#111" stroke-width="0.9" stroke-dasharray="1.84,1.56"/>
<line x1="703.95" y1="53.3" x2="710.85" y2="53.3" stroke="#111" stroke-width="0.9"/>
<line x1="703.95" y1="183.1" x2="710.85" y2="183.1" stroke="#111" stroke-width="0.9"/>
<rect x="701.65" y="121" width="11.5" height="45.50" fill="#A647C6" stroke="#111" stroke-width="0.8"/>
<line x1="701.65" y1="145.9" x2="713.15" y2="145.9" stroke="#000" stroke-width="2.1"/>
<line x1="707.40" y1="259.3" x2="707.40" y2="265.3" stroke="#222" stroke-width="0.9"/>
<text transform="translate(710.60,303.50) rotate(-90) scale(0.1)" font-size="85" textLength="334" lengthAdjust="spacingAndGlyphs" fill="#111" stroke="#000" stroke-width="4">Sorafenib</text>
<line x1="721.67" y1="39.2" x2="721.67" y2="115.7" stroke="#111" stroke-width="0.9" stroke-dasharray="2.75,2.35"/>
<line x1="721.67" y1="203.5" x2="721.67" y2="167.3" stroke="#111" stroke-width="0.9" stroke-dasharray="2.75,2.35"/>
<line x1="718.22" y1="39.2" x2="725.12" y2="39.2" stroke="#111" stroke-width="0.9"/>
<line x1="718.22" y1="203.5" x2="725.12" y2="203.5" stroke="#111" stroke-width="0.9"/>
<rect x="715.92" y="115.7" width="11.5" height="51.60" fill="#EA3099" stroke="#111" stroke-width="0.8"/>
<line x1="715.92" y1="143.4" x2="727.42" y2="143.4" stroke="#000" stroke-width="2.1"/>
<line x1="721.67" y1="259.3" x2="721.67" y2="265.3" stroke="#222" stroke-width="0.9"/>
<text transform="translate(724.87,297.70) rotate(-90) scale(0.1)" font-size="85" textLength="250" lengthAdjust="spacingAndGlyphs" fill="#111" stroke="#000" stroke-width="4">TAE684</text>
<line x1="735.94" y1="44.8" x2="735.94" y2="116" stroke="#111" stroke-width="0.9" stroke-dasharray="2.75,2.35"/>
<line x1="735.94" y1="205" x2="735.94" y2="166.3" stroke="#111" stroke-width="0.9" stroke-dasharray="1.84,1.56"/>
<line x1="732.49" y1="44.8" x2="739.39" y2="44.8" stroke="#111" stroke-width="0.9"/>
<line x1="732.49" y1="205" x2="739.39" y2="205" stroke="#111" stroke-width="0.9"/>
<rect x="730.19" y="116" width="11.5" height="50.30" fill="#E5301F" stroke="#111" stroke-width="0.8"/>
<line x1="730.19" y1="145.2" x2="741.69" y2="145.2" stroke="#000" stroke-width="2.1"/>
<line x1="735.94" y1="259.3" x2="735.94" y2="265.3" stroke="#222" stroke-width="0.9"/>
<text transform="translate(739.14,290.70) rotate(-90) scale(0.1)" font-size="85" textLength="229" lengthAdjust="spacingAndGlyphs" fill="#111" stroke="#000" stroke-width="4">TKI258</text>
<line x1="750.21" y1="28.9" x2="750.21" y2="109.7" stroke="#111" stroke-width="0.9" stroke-dasharray="2.75,2.35"/>
<line x1="750.21" y1="236.5" x2="750.21" y2="167.5" stroke="#111" stroke-width="0.9" stroke-dasharray="2.75,2.35"/>
<line x1="746.76" y1="28.9" x2="753.66" y2="28.9" stroke="#111" stroke-width="0.9"/>
<line x1="746.76" y1="236.5" x2="753.66" y2="236.5" stroke="#111" stroke-width="0.9"/>
<rect x="744.46" y="109.7" width="11.5" height="57.80" fill="#F7941E" stroke="#111" stroke-width="0.8"/>
<line x1="744.46" y1="136.9" x2="755.96" y2="136.9" stroke="#000" stroke-width="2.1"/>
<line x1="750.21" y1="259.3" x2="750.21" y2="265.3" stroke="#222" stroke-width="0.9"/>
<text transform="translate(753.41,307.70) rotate(-90) scale(0.1)" font-size="85" textLength="370" lengthAdjust="spacingAndGlyphs" fill="#111" stroke="#000" stroke-width="4">Topotecan</text>
<line x1="764.48" y1="45.5" x2="764.48" y2="115.5" stroke="#111" stroke-width="0.9" stroke-dasharray="2.75,2.35"/>
<line x1="764.48" y1="207" x2="764.48" y2="168.3" stroke="#111" stroke-width="0.9" stroke-dasharray="2.75,2.35"/>
<line x1="761.03" y1="45.5" x2="767.93" y2="45.5" stroke="#111" stroke-width="0.9"/>
<line x1="761.03" y1="207" x2="767.93" y2="207" stroke="#111" stroke-width="0.9"/>
<rect x="758.73" y="115.5" width="11.5" height="52.80" fill="#D9E23E" stroke="#111" stroke-width="0.8"/>
<line x1="758.73" y1="142.4" x2="770.23" y2="142.4" stroke="#000" stroke-width="2.1"/>
<line x1="764.48" y1="259.3" x2="764.48" y2="265.3" stroke="#222" stroke-width="0.9"/>
<text transform="translate(767.68,300.00) rotate(-90) scale(0.1)" font-size="85" textLength="322" lengthAdjust="spacingAndGlyphs" fill="#111" stroke="#000" stroke-width="4">ZD−6474</text>
<text transform="translate(406.5,189.60) rotate(-90) scale(0.1)" font-size="95" textLength="952" lengthAdjust="spacingAndGlyphs" fill="#111" stroke="#000" stroke-width="4">Observed Activity area</text>
<text x="397.8" y="13.5" font-family="'Liberation Serif', serif" font-weight="bold" font-size="20" fill="#111">b</text>
</svg>
</body></html>
